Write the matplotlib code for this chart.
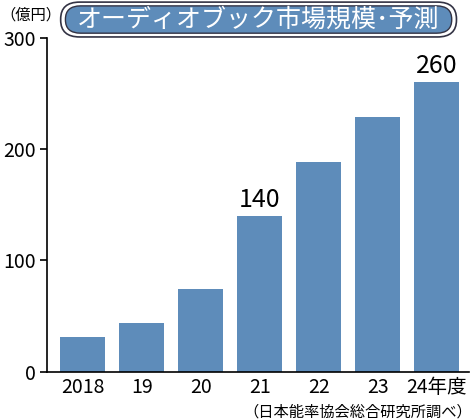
import matplotlib.pyplot as plt
from matplotlib.patches import FancyBboxPatch

plt.rcParams['font.family'] = ['Noto Sans CJK JP', 'DejaVu Sans']

years = ["2018", "19", "20", "21", "22", "23", "24年度"]
sizes = [31, 44, 74, 140, 188, 229, 260]
labeled = {3: "140", 6: "260"}
yticks = [0, 100, 200, 300]

fig = plt.figure(figsize=(4.74, 4.20), dpi=100)
ax = fig.add_axes([0.10, 0.115, 0.89, 0.795])
bar_color = "#5e8cba"
bars = ax.bar(range(len(years)), sizes, width=0.76, color=bar_color)
for i, txt in labeled.items():
    ax.text(i, sizes[i] + 3, txt, ha="center", va="bottom", fontsize=18)

ax.set_xlim(-0.6, len(years) - 0.45)
ax.set_ylim(0, 300)
ax.set_yticks(yticks)
ax.set_xticks(range(len(years)))
ax.set_xticklabels(years, fontsize=14)
ax.tick_params(axis="y", labelsize=14, length=5, width=1.2)
ax.tick_params(axis="x", length=0, pad=4)
for s in ["top", "right"]:
    ax.spines[s].set_visible(False)
for s in ["left", "bottom"]:
    ax.spines[s].set_linewidth(1.2)

fig.text(0.0, 0.965, "（億円）", fontsize=11, va="center", ha="left")
fig.text(0.995, 0.018, "（日本能率協会総合研究所調べ）", fontsize=11, ha="right", va="center")

# title box
outer = FancyBboxPatch((0.128, 0.912), 0.835, 0.083, boxstyle="round,pad=0,rounding_size=0.04",
                       transform=fig.transFigure, fc="white", ec="#333344", lw=1.2)
inner = FancyBboxPatch((0.138, 0.921), 0.815, 0.065, boxstyle="round,pad=0,rounding_size=0.032",
                       transform=fig.transFigure, fc=bar_color, ec="#333344", lw=1.0)
fig.patches.extend([outer, inner])
fig.text(0.545, 0.953, "オーディオブック市場規模･予測", color="white", fontsize=18,
         ha="center", va="center")

fig.savefig("out.png", dpi=100)
